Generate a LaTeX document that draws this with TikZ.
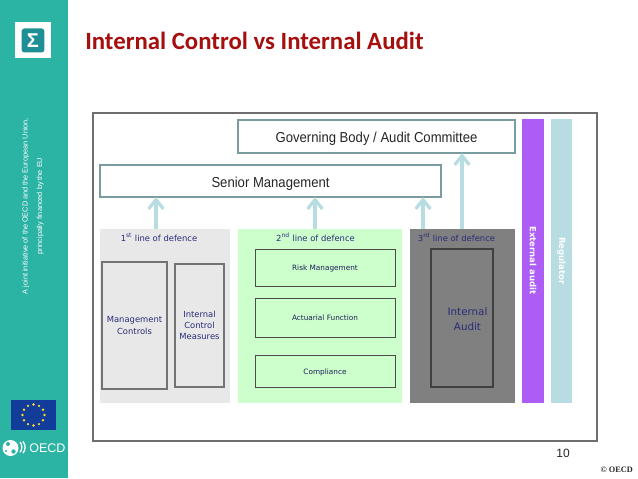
\documentclass[tikz,border=0pt]{standalone}
\usepackage{fontspec}
\setmainfont{Carlito}
\newfontfamily\tah{DejaVu Sans}[Scale=0.9]
\newfontfamily\lib{Liberation Sans}
\newfontfamily\libn{Liberation Sans}[FakeStretch=0.91]
\newfontfamily\ser{Liberation Serif}
\usetikzlibrary{arrows.meta,shapes.geometric}
\definecolor{band}{HTML}{2BB3A4}
\definecolor{iconc}{HTML}{1F8F96}
\definecolor{titlered}{HTML}{A5100F}
\definecolor{framec}{HTML}{6E6E6E}
\definecolor{tealedge}{HTML}{7A9CA0}
\definecolor{arrowc}{HTML}{B7DDE2}
\definecolor{panelone}{HTML}{E8E8E8}
\definecolor{paneltwo}{HTML}{CCFFCC}
\definecolor{panelthree}{HTML}{808080}
\definecolor{extc}{HTML}{AD5CF5}
\definecolor{navy}{HTML}{2B2B7A}
\definecolor{euc}{HTML}{123C9A}
\newcommand{\lowered}[2]{\raisebox{-#1}[0pt][0pt]{#2}}
\tikzset{
  x=0.75pt,y=-0.75pt,
  sz/.style n args={2}{minimum width=#1*0.75pt,minimum height=#2*0.75pt},
  rectnode/.style={inner sep=0pt,outer sep=0pt,anchor=north west},
  headbox/.style={rectnode,draw=tealedge,line width=1.1pt,fill=white,font=\libn\fontsize{10.8}{12}\selectfont,text=black!85},
  panel/.style={rectnode},
  innerbox/.style={rectnode,draw=black!55,line width=0.9pt,font=\tah\fontsize{7}{8.4}\selectfont,text=navy,align=center},
  smallbox/.style={rectnode,draw=black!70,line width=0.7pt,font=\tah\fontsize{6.1}{7}\selectfont,text=navy!70!black,align=center},
  linelabel/.style={font=\tah\fontsize{7}{8}\selectfont,text=navy},
  upflow/.style={draw=arrowc,line width=2.6pt,-{Straight Barb[length=7pt,width=11pt,line width=2.4pt]}},
  sidelabel/.style={rotate=-90,anchor=west,inner sep=0pt,text=white,font=\tah\bfseries\fontsize{7.1}{8}\selectfont},
}
\begin{document}
\begin{tikzpicture}
\useasboundingbox (0,0) rectangle (638,478);
\fill[white] (0,0) rectangle (638,478);
\fill[band] (0,0) rectangle (68,478);
% icon
\node[rectnode,fill=white,minimum width=27pt,minimum height=27pt] (iconbg) at (15,22.5) {};
\node[fill=iconc,rounded corners=2pt,minimum width=17pt,minimum height=18pt,inner sep=0pt,text=white,font=\lib\bfseries\fontsize{15}{15}\selectfont] (icon) at (33,40.5) {Σ};
% side text
\node[rotate=90,text=white,align=center,font=\lib\fontsize{5.5}{11}\selectfont,anchor=center] (sidetext) at (33,206) {A joint initiative of the OECD and the European Union,\\principally financed by the EU};
% EU flag
\node[rectnode,fill=euc,minimum width=33.75pt,minimum height=23pt] (flag) at (11,399.5) {};
\foreach \a in {0,30,...,330}
  \fill[yellow!70!orange!80!white] ({33.5+11*cos(\a)},{415+10.5*sin(\a)}) circle (1.3);
% OECD logo
\node[circle,fill=white,minimum size=12pt,inner sep=0pt] (globe) at (10.5,448) {};
\fill[band] (8,444) circle (2) (13.5,451.5) circle (2.2) (6,451) circle (1.2);
\draw[white,line width=1pt] (20,442) arc (-40:40:8);
\draw[white,line width=1pt] (23,441.5) arc (-40:40:9);
\node[anchor=west,inner sep=0pt,text=white,font=\lib\fontsize{9.4}{11}\selectfont] (oecd) at (29,448) {OECD};
% title
\node[anchor=west,inner sep=0pt,text=titlered,font=\bfseries\fontsize{18.6}{20}\selectfont] (title) at (85,41) {Internal Control vs Internal Audit};
% frame
\node[rectnode,draw=framec,line width=0.9pt,sz={504}{328}] (frame) at (93,113) {};
% panels
\node[panel,fill=panelone,sz={130}{174}] (p1) at (100,229) {};
\node[panel,fill=paneltwo,sz={164}{174}] (p2) at (238,229) {};
\node[panel,fill=panelthree,sz={105}{174}] (p3) at (410,229) {};
\node[rectnode,fill=extc,sz={22}{284}] (ext) at (522,119) {};
\node[rectnode,fill=arrowc,sz={21}{284}] (reg) at (551,119) {};
\node[sidelabel] (exttext) at (533,226) {External audit};
\node[sidelabel] (regtext) at (561.5,237) {Regulator};
% heads
\node[headbox,sz={277}{33}] (gov) at (238,120) {\lowered{4.3pt}{Governing Body / Audit Committee}};
\node[headbox,sz={341}{32}] (sen) at (100,165) {\lowered{4.6pt}{Senior Management}};
% labels
\node[linelabel] (l1) at (159,237) {1\textsuperscript{st} line of defence};
\node[linelabel] (l2) at (315.5,237) {2\textsuperscript{nd} line of defence};
\node[linelabel] (l3) at (456.5,237) {3\textsuperscript{rd} line of defence};
% inner boxes
\node[innerbox,sz={65}{127}] (mc) at (102,262) {Management\\Controls};
\node[innerbox,sz={49}{123}] (icm) at (175,264) {Internal\\Control\\Measures};
\node[smallbox,sz={140}{37}] (rm) at (255,249) {\lowered{2.4pt}{Risk Management}};
\node[smallbox,sz={140}{39}] (af) at (255,298) {\lowered{2.4pt}{Actuarial Function}};
\node[smallbox,sz={140}{32}] (co) at (255,355) {\lowered{2.7pt}{Compliance}};
\node[rectnode,draw=black!75,line width=0.8pt,sz={62}{138}] (ia) at (431,249) {};
\node[text=navy,align=center,font=\tah\fontsize{8.6}{11}\selectfont] (iatext) at (467.5,319) {Internal\\Audit};
% arrows
\coordinate (a1) at (156,229); \coordinate (a1t) at (156,197);
\coordinate (a2) at (315,229); \coordinate (a2t) at (315,197);
\coordinate (a3) at (423,229); \coordinate (a3t) at (423,197);
\coordinate (a4) at (462,229); \coordinate (a4t) at (462,153);
\draw[upflow] (a1) -- (a1t);
\draw[upflow] (a2) -- (a2t);
\draw[upflow] (a3) -- (a3t);
\draw[upflow] (a4) -- (a4t);
% footer
\node[inner sep=0pt,text=black!85,font=\lib\fontsize{9}{10}\selectfont] (num) at (563,453) {10};
\node[anchor=east,inner sep=0pt,text=black!85,font=\ser\bfseries\fontsize{6.2}{7}\selectfont] (copy) at (633,470) {© OECD};
\end{tikzpicture}
\end{document}
